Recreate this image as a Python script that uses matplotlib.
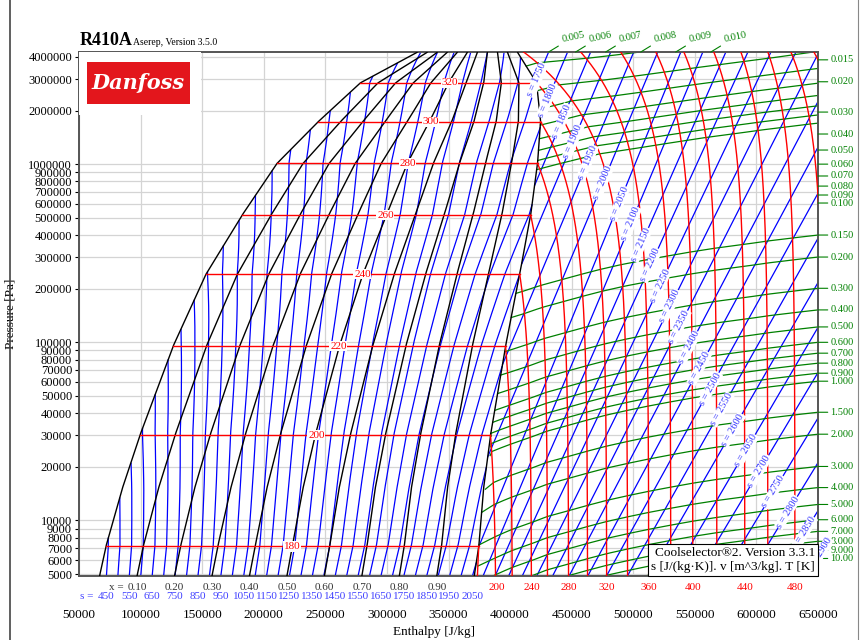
import numpy as np
import matplotlib
matplotlib.use("Agg")
import matplotlib.pyplot as plt
from matplotlib.patches import Rectangle
from matplotlib.lines import Line2D

plt.rcParams['font.family'] = ['Liberation Serif', 'DejaVu Serif']

# ---------------- data ----------------
# saturation table (pressure, liquid/vapour enthalpy, liquid/vapour entropy)
sat_p  = [4880, 7160, 15000, 30100, 95000, 241000, 518000, 1010000, 1730000, 2860000, 4260000]
sat_hl = [66700, 71900, 85000, 99500, 126400, 153100, 182500, 210800, 244200, 278500, 325000]
sat_hv = [370900, 374600, 378400, 384100, 396300, 407800, 416700, 422300, 424800, 421500, 405900]
sat_sl = [420, 440, 510, 590, 720, 845, 960, 1065, 1170, 1275, 1390]
sat_sv = [2058, 2040, 2010, 1985, 1940, 1900, 1855, 1830, 1795, 1750, 1690]

# two-phase isotherms (K) and their saturation pressures, label positions
dome_T = [180, 200, 220, 240, 260, 280, 300, 320]
dome_p = [7160, 30100, 95000, 241000, 518000, 1010000, 1730000, 2860000]
dome_lab_h = [223200, 242700, 260600, 280100, 298800, 316700, 335400, 350800]

# superheated isotherms: enthalpy at bottom, enthalpy at top edge (T >= 340)
iso_T  = [180, 200, 220, 240, 260, 280, 300, 320, 340, 360, 380, 400, 420, 440, 460, 480, 500, 520, 540]
iso_hb = [371100, 389000, 402000, 417500, 430500, 447600, 463000, 478500, 495500, 512600,
          530500, 548400, 567900, 590600, 609300, 631300, 654100, 680900, 709300]
iso_ht = [None, None, None, None, None, None, None, None, 411000, 457300,
          489800, 518300, 541100, 565400, 587400, 609300, 628000, 646700, 665400]

# qualities
qualities = [0.10, 0.20, 0.30, 0.40, 0.50, 0.60, 0.70, 0.80, 0.90]

# isentropes inside the dome
s_dome = list(range(450, 2051, 50))
s_dome_labels = list(range(450, 2051, 100))

# superheated isentropes: enthalpy at p=5000 Pa and at the top edge
s_sup = list(range(1750, 3101, 50))
s_sup_hb = [253300, 268800, 287400, 303700, 322400, 341900, 365500, 378700, 388500, 399500,
            410600, 422400, 435300, 448700, 463900, 479100, 496100, 513300, 532700, 552300,
            573400, 594600, 618200, 641500, 665800, 691100, 716400, 743700]
s_sup_ht = [431300, 446700, 465400, 481700, 500400, 519900, 538600, 556500, 575200, 593100,
            611800, 632100, 650800, 671100, 691500, 713400, 735400, 758100, 780900, 805300,
            829700, 854100, 880100, 906100, 932900, 959700, 987400, 1016700]
s_sup_labels = list(range(1750, 2901, 50))

# isochores: leaving the top edge (v, enthalpy at top) and the right edge (v, pressure)
v_top = ['0.005', '0.006', '0.007', '0.008', '0.009', '0.010']
v_top_h = [431300, 453200, 477600, 506100, 534500, 563000]
v_right = ['0.015', '0.020', '0.030', '0.040', '0.050', '0.060', '0.070', '0.080', '0.090', '0.100',
           '0.150', '0.200', '0.300', '0.400', '0.500', '0.600', '0.700', '0.800', '0.900', '1.000',
           '1.500', '2.000', '3.000', '4.000', '5.000', '6.000', '7.000', '8.000', '9.000', '10.00']
v_right_p = [3.85e6, 2.90e6, 1.96e6, 1.476e6, 1.20e6, 1.00e6, 8.58e5, 7.53e5, 6.71e5, 6.05e5,
             4.00e5, 3.01e5, 2.01e5, 1.52e5, 1.22e5, 1.00e5, 8.69e4, 7.64e4, 6.71e4, 6.05e4,
             4.05e4, 3.05e4, 2.01e4, 1.53e4, 1.23e4, 1.01e4, 8690, 7640, 6800, 6120]

x_ticks = list(range(50000, 650001, 50000))
y_ticks = ([5000, 6000, 7000, 8000, 9000, 10000, 20000, 30000, 40000, 50000, 60000, 70000, 80000, 90000,
            100000, 200000, 300000, 400000, 500000, 600000, 700000, 800000, 900000, 1000000,
            2000000, 3000000, 4000000])

H_MIN, H_MAX = 50000, 650000
P_MIN, P_MAX = 4880, 4260000
P_REF = 5000

BLUE = '#0000ff'
RED = '#ff0000'
GREEN = '#008000'

# ---------------- helpers ----------------
lp = np.log10(sat_p)
def sat(arr, p):
    return np.interp(np.log10(p), lp, arr)

T_arr = np.array(iso_T, float)
hb_arr = np.array(iso_hb, float)
k_list = []
for T, hb, ht in zip(iso_T, iso_hb, iso_ht):
    if ht is None:
        pa = dome_p[dome_T.index(T)]
        ha = sat(sat_hv, pa)
    else:
        pa, ha = P_MAX, ht
    k_list.append((ha - hb) / pa)
k_arr = np.array(k_list)

def iso_h(T, p):
    return np.interp(T, T_arr, hb_arr) + np.interp(T, T_arr, k_arr) * p

def psat_of_T(T):
    T = np.asarray(T, float)
    out = 10 ** np.interp(T, dome_T, np.log10(dome_p))
    return np.where(T > dome_T[-1], np.inf, out)

# ---------------- figure ----------------
fig = plt.figure(figsize=(8.67, 6.4), dpi=100)
ax = fig.add_axes([79/867, 1-576/640, 739/867, 524/640])
ax.set_yscale('log')
ax.set_xlim(H_MIN, H_MAX)
ax.set_ylim(P_MIN, P_MAX)

ax.set_xticks(x_ticks)
ax.set_xticklabels([str(v) for v in x_ticks], fontsize=9.5)
ax.tick_params(axis='x', length=0, pad=24)
ax.set_yticks(y_ticks)
ax.set_yticklabels([str(v) for v in y_ticks], fontsize=9)
ax.yaxis.set_minor_locator(matplotlib.ticker.NullLocator())
ax.tick_params(axis='y', length=3, width=0.8, pad=2)
for sp in ax.spines.values():
    sp.set_color('#555555'); sp.set_linewidth(1.4)
ax.grid(True, which='major', color='#d4d4d4', lw=0.9, zorder=0)
ax.set_axisbelow(True)
ax.set_xlabel('Enthalpy [J/kg]', fontsize=9.5)
ax.xaxis.set_label_coords(0.48, -0.095)
ax.set_ylabel('Pressure [Pa]', fontsize=9.5)
ax.yaxis.set_label_coords(-0.085, 0.5)

P = np.logspace(np.log10(4000), np.log10(4.4e6), 500)
hlP, hvP = sat(sat_hl, P), sat(sat_hv, P)
slP, svP = sat(sat_sl, P), sat(sat_sv, P)

# dome & quality lines
ax.plot(hlP, P, color='black', lw=1.0, zorder=3)
ax.plot(hvP, P, color='black', lw=1.0, zorder=3)
for q in qualities:
    ax.plot(hlP + q * (hvP - hlP), P, color='black', lw=1.0, zorder=3)

# dome isentropes
for s in s_dome:
    f = (s - slP) / (svP - slP)
    h = np.where((f >= 0) & (f <= 1), hlP + f * (hvP - hlP), np.nan)
    ax.plot(h, P, color=BLUE, lw=0.9, zorder=2)

# superheated isentropes
frac = (np.log10(P) - np.log10(P_REF)) / (np.log10(P_MAX) - np.log10(P_REF))
sup_lines = {}
for s, hb, ht in zip(s_sup, s_sup_hb, s_sup_ht):
    h = hb + (ht - hb) * frac
    h = np.where(h >= hvP, h, np.nan)
    sup_lines[s] = (hb, ht)
    ax.plot(h, P, color=BLUE, lw=0.9, zorder=2)

# two-phase isotherms
for T, p, lh in zip(dome_T, dome_p, dome_lab_h):
    ax.plot([sat(sat_hl, p), sat(sat_hv, p)], [p, p], color=RED, lw=1.0, zorder=4)
    ax.text(lh, p, str(T), color=RED, fontsize=8, ha='center', va='center', zorder=6,
            bbox=dict(fc='white', ec='none', pad=0.5))

# superheated isotherms
for T, hb, ht in zip(iso_T, iso_hb, iso_ht):
    if ht is None:
        pmax = dome_p[dome_T.index(T)]
    else:
        pmax = P_MAX * 1.05
    PP = P[P <= pmax]
    if ht is None:
        PP = np.append(PP, pmax)
    ax.plot(iso_h(T, PP), PP, color=RED, lw=1.0, zorder=3)

# isochores
Tf = np.arange(180, 540.01, 0.5)
Tline = np.arange(180, 540.01, 0.25)
def draw_isochore(h_a, p_a):
    hs = iso_h(Tf, p_a)
    T_a = np.interp(h_a, hs, Tf)
    pl = p_a * Tline / T_a
    hh = iso_h(Tline, pl)
    ok = (pl <= 1.6 * psat_of_T(Tline)) & (hh >= sat(sat_hv, pl)) & (pl <= P_MAX * 1.2)
    ax.plot(np.where(ok, hh, np.nan), pl, color=GREEN, lw=0.9, zorder=2)

for lab, h_a in zip(v_top, v_top_h):
    draw_isochore(h_a, P_MAX)
    ax.annotate(lab, xy=(h_a, P_MAX), xytext=(9, 6), textcoords='offset points',
                fontsize=7.5, color=GREEN, rotation=12, ha='left', va='bottom', annotation_clip=False,
                arrowprops=dict(arrowstyle='-', color=GREEN, lw=0.8, shrinkA=0, shrinkB=0))
for lab, p_a in zip(v_right, v_right_p):
    draw_isochore(H_MAX, p_a)
    ax.annotate(lab, xy=(H_MAX, p_a), xytext=(9, 0), textcoords='offset points',
                fontsize=7.5, color=GREEN, ha='left', va='center', annotation_clip=False,
                arrowprops=dict(arrowstyle='-', color=GREEN, lw=0.8, shrinkA=0, shrinkB=0))

# superheated isentrope labels along a diagonal
fig.canvas.draw()
for i, s in enumerate(s_sup_labels):
    t = i / (len(s_sup_labels) - 1)
    ypx = 80 + t * 473
    pl = 10 ** (np.log10(4.0e6) - (ypx - 57) / 178.0)
    hb, ht = sup_lines[s]
    fr = (np.log10(pl) - np.log10(P_REF)) / (np.log10(P_MAX) - np.log10(P_REF))
    hl_ = hb + (ht - hb) * fr
    d0 = ax.transData.transform((hb, P_REF)); d1 = ax.transData.transform((ht, P_MAX))
    ang = np.degrees(np.arctan2(d1[1] - d0[1], d1[0] - d0[0]))
    ax.text(hl_, pl, 's = %d' % s, color='#3333ff', fontsize=7.5, rotation=ang,
            rotation_mode='anchor', ha='center', va='center', zorder=6,
            bbox=dict(fc='white', ec='none', pad=0.3))

# bottom labels
bl = ax.get_xaxis_transform()
h_bot = sat(sat_hl, P_MIN), sat(sat_hv, P_MIN)
for q in qualities:
    h = h_bot[0] + q * (h_bot[1] - h_bot[0])
    ax.text(h, -0.022, '%.2f' % q, transform=bl, fontsize=8, color='#333333', ha='center', va='center')
h01 = h_bot[0] + qualities[0] * (h_bot[1] - h_bot[0])
ax.text(h01 - 9000, -0.022, 'x = ', transform=bl, fontsize=8, color='#333333', ha='right', va='center')
sl0, sv0 = sat(sat_sl, P_MIN), sat(sat_sv, P_MIN)
for s in s_dome_labels:
    f = (s - sl0) / (sv0 - sl0)
    h = h_bot[0] + f * (h_bot[1] - h_bot[0])
    ax.text(h, -0.04, str(s), transform=bl, fontsize=8, color='#4040ff', ha='center', va='center')
f450 = (s_dome_labels[0] - sl0) / (sv0 - sl0)
ax.text(h_bot[0] + f450 * (h_bot[1] - h_bot[0]) - 8500, -0.04, 's = ', transform=bl, fontsize=8,
        color='#4040ff', ha='right', va='center')
for T, hb in zip(iso_T, iso_hb):
    if 200 <= T <= 480 and T % 40 == 0:
        ax.text(hb, -0.022, str(T), transform=bl, fontsize=8, color=RED, ha='center', va='center')

# info box
ax.text(0.996, 0.006, 'Coolselector\u00ae2. Version 3.3.1\ns [J/(kg\u00b7K)]. v [m^3/kg]. T [K]',
        transform=ax.transAxes, ha='right', va='bottom', fontsize=9.5, zorder=10,
        bbox=dict(fc='white', ec='black', lw=0.8, pad=2.5))

# Danfoss logo
ax.add_patch(Rectangle((0.0, 0.88), 0.165, 0.12, transform=ax.transAxes, fc='white', ec='none', zorder=8))
ax.add_patch(Rectangle((0.011, 0.901), 0.139, 0.08, transform=ax.transAxes, fc='#e3161c', ec='none', zorder=9))
ax.text(0.08, 0.941, 'Danfoss', transform=ax.transAxes, color='white', fontsize=15,
        fontstyle='italic', fontweight='bold', family='DejaVu Serif', ha='center', va='center', zorder=10)

# title
fig.text(80/867, 1-45/640, 'R410A', fontsize=13, fontweight='bold', va='baseline')
fig.text(133/867, 1-45/640, 'Aserep, Version 3.5.0', fontsize=7, va='baseline')

# page border
fig.add_artist(Line2D([10/867, 10/867], [0, 1], color='#444444', lw=1.2))
fig.add_artist(Line2D([858/867, 858/867], [0, 1], color='#888888', lw=0.8))

fig.savefig('out.png', dpi=100)
